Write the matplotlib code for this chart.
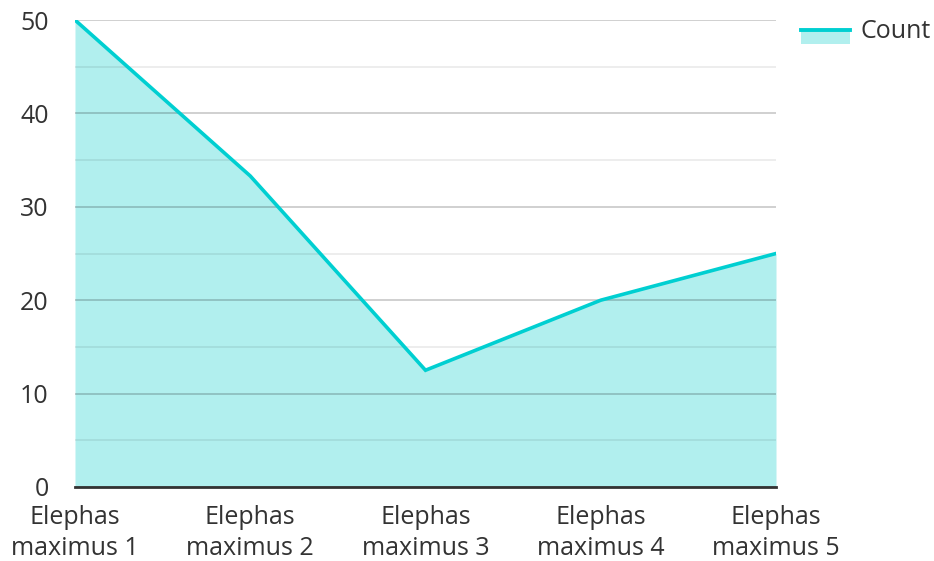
import matplotlib
matplotlib.use("Agg")
import matplotlib.pyplot as plt
from matplotlib.legend_handler import HandlerBase
from matplotlib.patches import Rectangle, Patch
from matplotlib.lines import Line2D

plt.rcParams['font.family'] = ['Open Sans', 'DejaVu Sans']

categories = ["Elephas\nmaximus 1", "Elephas\nmaximus 2", "Elephas\nmaximus 3",
              "Elephas\nmaximus 4", "Elephas\nmaximus 5"]
counts = [50, 33.3, 12.5, 20, 25]
series_name = "Count"
y_ticks = [0, 10, 20, 30, 40, 50]

line_color = "#00cfd1"
fill_color = "#b1efee"
text_color = "#333333"
fs = 18

fig = plt.figure(figsize=(9.34, 5.61), dpi=100)
ax = fig.add_axes([75/934, 1-487/561, (776-75)/934, (487-20)/561])

x = list(range(len(categories)))
ax.fill_between(x, 0, counts, color=fill_color, lw=0, zorder=1)
ax.plot(x, counts, color=line_color, lw=2.6, zorder=3, solid_joinstyle='miter')

ax.set_xlim(0, len(categories)-1)
ax.set_ylim(0, 50)
ax.set_yticks(y_ticks)
ax.set_yticks([5, 15, 25, 35, 45], minor=True)
ax.set_xticks(x)
ax.set_xticklabels(categories, linespacing=1.3)
ax.grid(axis='y', which='major', color='#000000', alpha=0.2, lw=1.3, zorder=2)
ax.grid(axis='y', which='minor', color='#000000', alpha=0.08, lw=1.3, zorder=2)
ax.set_axisbelow(False)

for s in ['left', 'right', 'top']:
    ax.spines[s].set_visible(False)
ax.spines['bottom'].set_color('#333333')
ax.spines['bottom'].set_linewidth(2)
ax.spines['bottom'].set_zorder(4)

ax.tick_params(axis='y', which='both', length=0, pad=19, labelsize=fs, labelcolor=text_color)
ax.tick_params(axis='x', which='both', length=0, pad=13, labelsize=fs, labelcolor=text_color)
for lbl in ax.get_yticklabels():
    lbl.set_verticalalignment('center_baseline')


class AreaHandler(HandlerBase):
    def create_artists(self, legend, orig_handle, xdescent, ydescent, width, height, fontsize, trans):
        r = Rectangle((-xdescent, -ydescent - height*0.3), width, height*0.85,
                      facecolor=fill_color, edgecolor='none', transform=trans)
        top = -ydescent + height*0.5
        l = Line2D([-xdescent, -xdescent + width], [top, top], color=line_color, lw=2.8, transform=trans)
        return [r, l]


h = Patch(facecolor=fill_color)
fig.legend([h], [series_name], handler_map={Patch: AreaHandler()},
           loc='center left', bbox_to_anchor=(801/934, 1-32/561), frameon=False,
           borderpad=0, borderaxespad=0, handlelength=1.95, handletextpad=0.45,
           fontsize=fs, labelcolor=text_color)

fig.savefig("out.png", dpi=100)
